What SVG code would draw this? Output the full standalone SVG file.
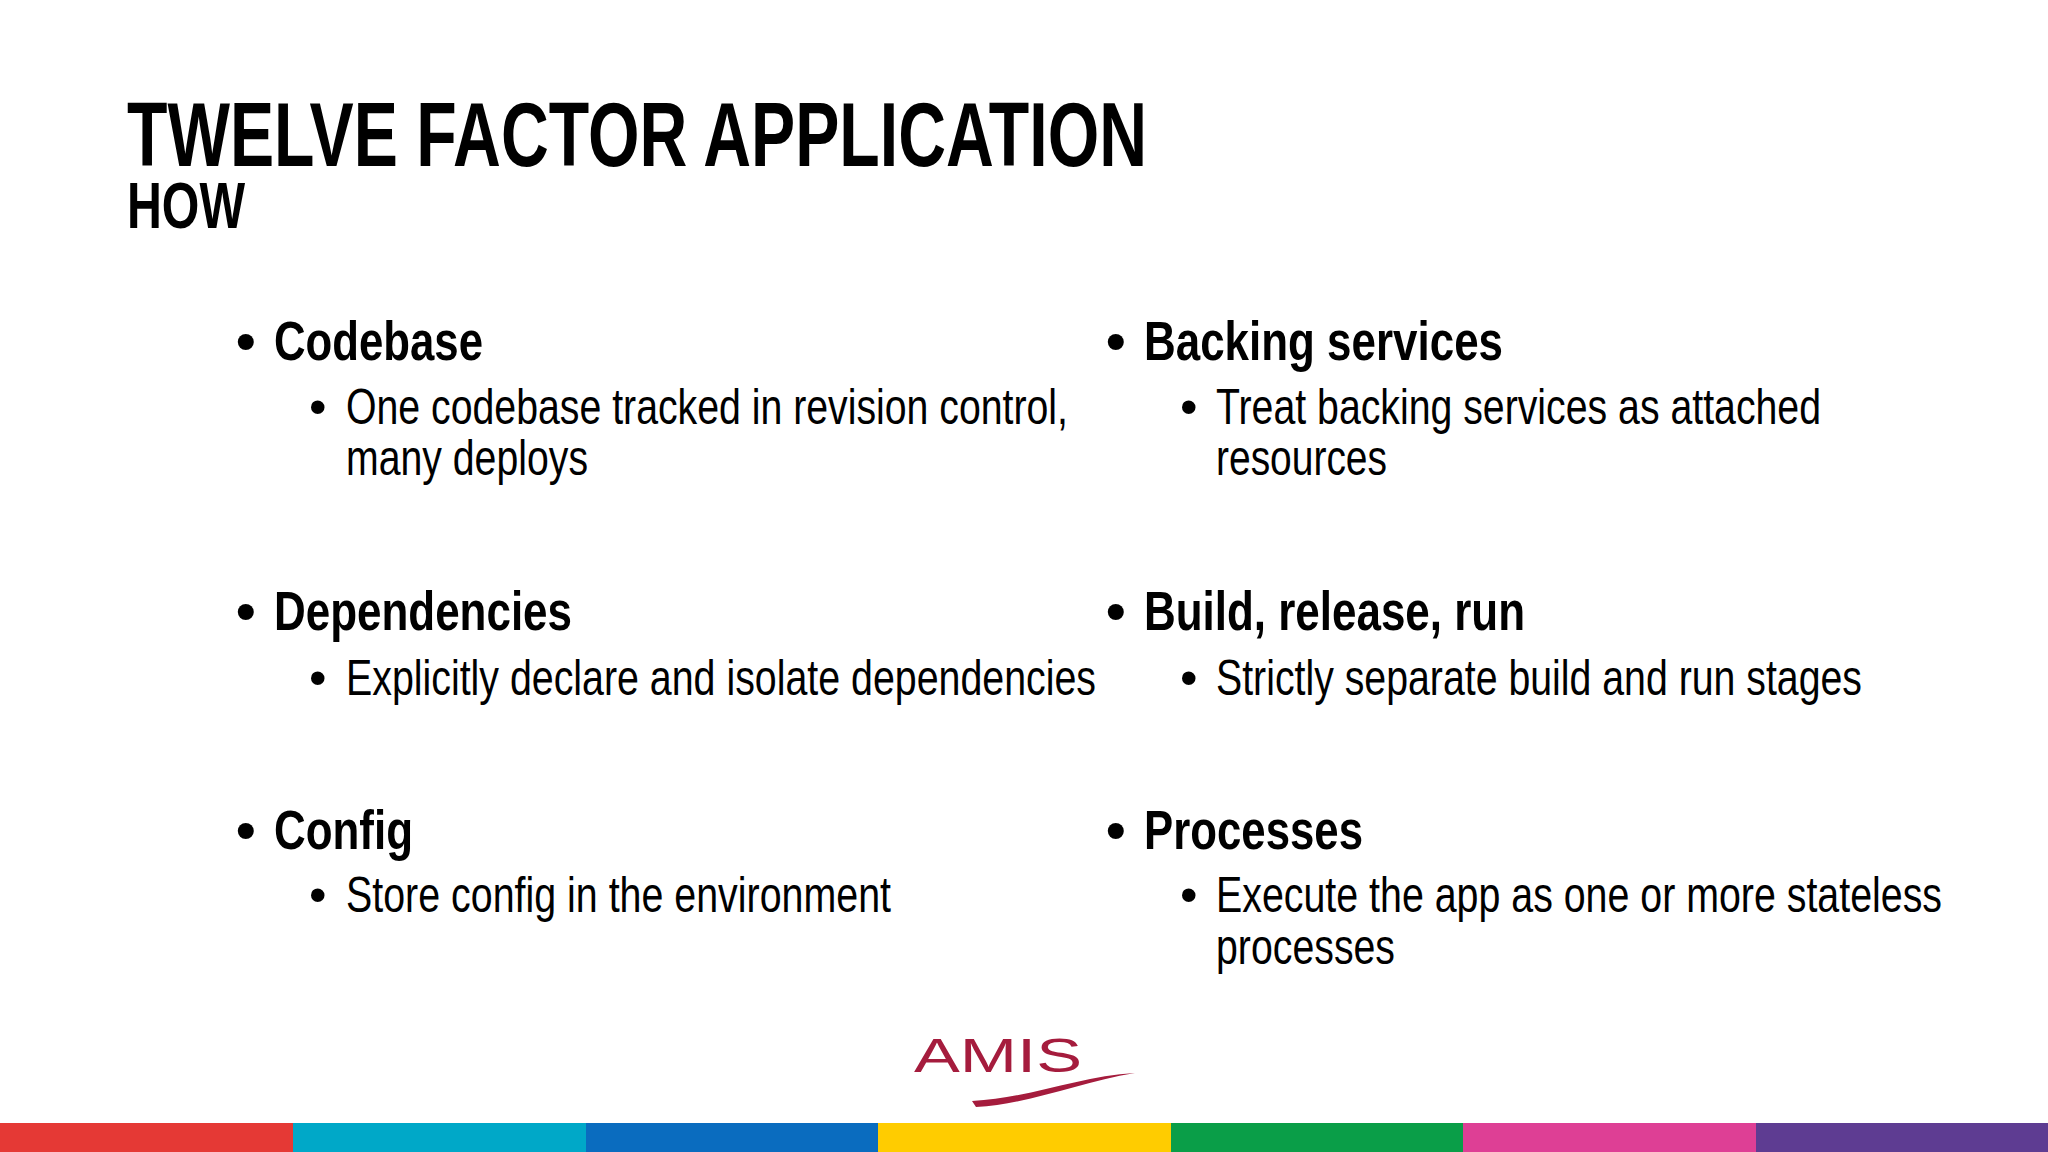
<svg xmlns="http://www.w3.org/2000/svg" width="2048" height="1152" viewBox="0 0 2048 1152">
<style>
text{font-family:"Liberation Sans",Arial,sans-serif;fill:#000}
.t{font-weight:bold;font-size:90px}
.h{font-weight:bold;font-size:64px}
.b{font-weight:bold;font-size:56px}
.s{font-size:50px}
</style>
<rect width="2048" height="1152" fill="#fff"/>
<g id="title">
<text class="t" x="127" y="166" textLength="1020" lengthAdjust="spacingAndGlyphs">TWELVE FACTOR APPLICATION</text>
<text class="h" x="127" y="228" textLength="118" lengthAdjust="spacingAndGlyphs">HOW</text>
</g>
<g id="left">
<text class="b" x="236" y="360">•</text><text class="b" x="274" y="360" textLength="209" lengthAdjust="spacingAndGlyphs">Codebase</text>
<text class="s" x="309" y="424">•</text><text class="s" x="346" y="424" textLength="722" lengthAdjust="spacingAndGlyphs">One codebase tracked in revision control,</text>
<text class="s" x="346" y="475" textLength="242" lengthAdjust="spacingAndGlyphs">many deploys</text>
<text class="b" x="236" y="630">•</text><text class="b" x="274" y="630" textLength="298" lengthAdjust="spacingAndGlyphs">Dependencies</text>
<text class="s" x="309" y="695">•</text><text class="s" x="346" y="695" textLength="750" lengthAdjust="spacingAndGlyphs">Explicitly declare and isolate dependencies</text>
<text class="b" x="236" y="849">•</text><text class="b" x="274" y="849" textLength="139" lengthAdjust="spacingAndGlyphs">Config</text>
<text class="s" x="309" y="912">•</text><text class="s" x="346" y="912" textLength="545" lengthAdjust="spacingAndGlyphs">Store config in the environment</text>
</g>
<g id="right">
<text class="b" x="1106" y="360">•</text><text class="b" x="1144" y="360" textLength="359" lengthAdjust="spacingAndGlyphs">Backing services</text>
<text class="s" x="1180" y="424">•</text><text class="s" x="1216" y="424" textLength="605" lengthAdjust="spacingAndGlyphs">Treat backing services as attached</text>
<text class="s" x="1216" y="475" textLength="171" lengthAdjust="spacingAndGlyphs">resources</text>
<text class="b" x="1106" y="630">•</text><text class="b" x="1144" y="630" textLength="381" lengthAdjust="spacingAndGlyphs">Build, release, run</text>
<text class="s" x="1180" y="695">•</text><text class="s" x="1216" y="695" textLength="646" lengthAdjust="spacingAndGlyphs">Strictly separate build and run stages</text>
<text class="b" x="1106" y="849">•</text><text class="b" x="1144" y="849" textLength="219" lengthAdjust="spacingAndGlyphs">Processes</text>
<text class="s" x="1180" y="912">•</text><text class="s" x="1216" y="912" textLength="726" lengthAdjust="spacingAndGlyphs">Execute the app as one or more stateless</text>
<text class="s" x="1216" y="964" textLength="179" lengthAdjust="spacingAndGlyphs">processes</text>
</g>
<g id="logo">
<text x="914" y="1072" font-size="48" style="fill:#a51c3d;font-family:'Liberation Sans',sans-serif" textLength="168" lengthAdjust="spacingAndGlyphs">AMIS</text>
<path d="M972,1101 C1030,1098 1080,1076 1135,1073 C1080,1082 1030,1104 976,1107 Z" fill="#a51c3d"/>
</g>
<g id="bar">
<rect x="0" y="1123" width="293" height="29" fill="#e53935"/>
<rect x="293" y="1123" width="293" height="29" fill="#00a8c8"/>
<rect x="586" y="1123" width="292" height="29" fill="#0a6cbf"/>
<rect x="878" y="1123" width="293" height="29" fill="#ffcc00"/>
<rect x="1171" y="1123" width="292" height="29" fill="#0a9e48"/>
<rect x="1463" y="1123" width="293" height="29" fill="#de3f95"/>
<rect x="1756" y="1123" width="292" height="29" fill="#5e3c92"/>
</g>
</svg>
